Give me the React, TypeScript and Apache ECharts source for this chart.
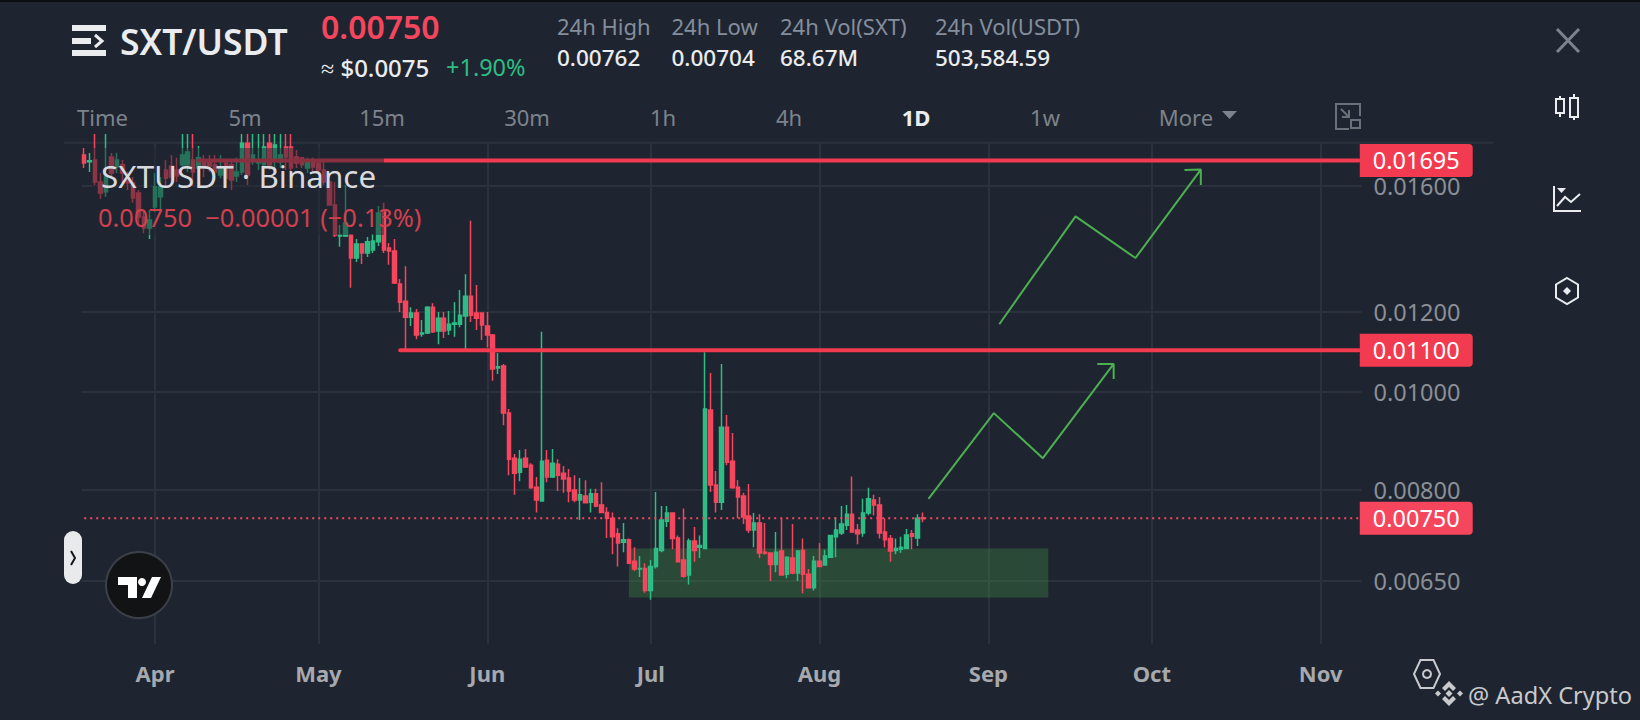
import React, { useEffect, useRef } from "react";
import * as echarts from "echarts";

// [open, close, low, high], one candle per day from 19 March
const dailyCandles: number[][] = [
  [0.01716,0.01685,0.01666,0.01744],[0.0169,0.01694,0.01651,0.01724],[0.01697,0.01614,0.01603,0.018],[0.01614,0.01574,0.01553,0.01647],
  [0.01578,0.0164,0.0156,0.018],[0.01708,0.01647,0.01632,0.01724],[0.0167,0.01697,0.01647,0.01724],[0.01678,0.01647,0.0161,0.01697],
  [0.01628,0.0161,0.01585,0.01651],[0.0161,0.01556,0.01539,0.01632],[0.01574,0.0149,0.01463,0.01585],[0.0149,0.01453,0.01436,0.01507],
  [0.01453,0.0148,0.01417,0.01514],[0.01524,0.01596,0.01507,0.01647],[0.0156,0.01596,0.01514,0.01632],[0.01658,0.01628,0.01599,0.01697],
  [0.01674,0.01632,0.01603,0.01716],[0.01658,0.01636,0.01614,0.01705],[0.01678,0.01716,0.0167,0.018],[0.01678,0.01728,0.01651,0.018],
  [0.01697,0.01651,0.01599,0.018],[0.01666,0.01705,0.01651,0.01752],[0.01689,0.01666,0.01632,0.01716],[0.01697,0.01674,0.01651,0.01716],
  [0.01678,0.01651,0.01621,0.01716],[0.0164,0.01666,0.01628,0.01716],[0.01685,0.01628,0.0161,0.01689],[0.01678,0.01621,0.01585,0.01697],
  [0.01636,0.01651,0.01614,0.01705],[0.01651,0.01763,0.0164,0.018],[0.01763,0.0164,0.01603,0.018],[0.01697,0.01716,0.01678,0.018],
  [0.01685,0.01697,0.01658,0.018],[0.01678,0.01748,0.01666,0.018],[0.01763,0.01678,0.01658,0.018],[0.01697,0.01756,0.01658,0.018],
  [0.01689,0.01716,0.01666,0.018],[0.01748,0.01708,0.01658,0.018],[0.01748,0.01666,0.01628,0.018],[0.01708,0.01685,0.01666,0.01736],
  [0.01705,0.01678,0.01666,0.01708],[0.01666,0.01697,0.01647,0.01705],[0.01689,0.0167,0.01651,0.01705],[0.01685,0.01658,0.0164,0.01697],
  [0.01658,0.01614,0.01603,0.01697],[0.01614,0.01531,0.01531,0.01621],[0.01531,0.0143,0.01424,0.01614],[0.01427,0.0143,0.01392,0.01463],
  [0.01427,0.0147,0.01424,0.01603],[0.0143,0.01357,0.01268,0.01433],[0.01357,0.01401,0.01345,0.01417],[0.01401,0.01373,0.01339,0.01404],
  [0.01373,0.01408,0.0136,0.01424],[0.01382,0.01411,0.01373,0.01433],[0.01408,0.01504,0.01395,0.01528],[0.01507,0.01382,0.01373,0.01539],
  [0.01388,0.01379,0.01336,0.01404],[0.01379,0.01282,0.01279,0.01417],[0.01279,0.01227,0.012,0.01294],[0.0123,0.01186,0.011,0.01332],
  [0.01186,0.01197,0.01162,0.01213],[0.01197,0.01139,0.01128,0.01208],[0.01141,0.01144,0.01134,0.01178],[0.01144,0.01213,0.01141,0.01216],
  [0.01213,0.01147,0.01144,0.01224],[0.01149,0.01183,0.01115,0.012],[0.01183,0.01149,0.01131,0.012],[0.01152,0.01167,0.01139,0.01203],
  [0.01167,0.0117,0.01134,0.01227],[0.01167,0.01191,0.01159,0.01262],[0.01189,0.01244,0.011,0.01308],[0.01244,0.01191,0.01173,0.01477],
  [0.01197,0.01183,0.01152,0.01276],[0.01197,0.01165,0.01126,0.01197],[0.01162,0.01139,0.01107,0.012],[0.01139,0.01054,0.01026,0.01141],
  [0.01056,0.01059,0.01042,0.01093],[0.01061,0.00953,0.00927,0.01066],[0.00953,0.00858,0.00827,0.00962],[0.0086,0.00831,0.00791,0.00868],
  [0.00833,0.00858,0.00816,0.00876],[0.0086,0.00843,0.00841,0.00878],[0.00846,0.00804,0.00802,0.0085],[0.00805,0.00782,0.0076,0.00824],
  [0.0078,0.00854,0.0078,0.01147],[0.00856,0.00824,0.00814,0.00876],[0.00824,0.0085,0.00822,0.00878],[0.00848,0.00827,0.00798,0.00858],
  [0.00831,0.0082,0.00795,0.00845],[0.00822,0.00798,0.00778,0.00839],[0.008,0.00782,0.00778,0.00827],[0.00782,0.00791,0.00747,0.00822],
  [0.00789,0.00777,0.00777,0.00818],[0.00778,0.00793,0.0076,0.00802],[0.00793,0.00771,0.00769,0.00802],[0.00773,0.0076,0.00759,0.00814],
  [0.0076,0.0075,0.00717,0.00769],[0.0075,0.00719,0.00691,0.0076],[0.00724,0.00709,0.00672,0.00733],[0.0071,0.00714,0.00694,0.00742],
  [0.00714,0.00677,0.00677,0.00716],[0.0068,0.00668,0.00665,0.00702],[0.00668,0.00669,0.00656,0.00688],[0.00669,0.00636,0.00633,0.00677],
  [0.00636,0.00672,0.00623,0.00682],[0.00672,0.007,0.00669,0.00796],[0.00697,0.00747,0.00694,0.00771],[0.00745,0.00759,0.00735,0.00771],
  [0.00759,0.00716,0.00699,0.0076],[0.00717,0.00679,0.00679,0.00721],[0.00682,0.00657,0.00655,0.00767],[0.00659,0.00712,0.00645,0.00716],
  [0.00712,0.00697,0.00679,0.00735],[0.00702,0.00705,0.00685,0.00721],[0.007,0.00962,0.00699,0.01095],[0.0096,0.00809,0.00796,0.01044],
  [0.00809,0.00778,0.0076,0.00835],[0.00778,0.00923,0.00764,0.01066],[0.00923,0.00852,0.00846,0.00949],[0.00854,0.00804,0.00802,0.00911],
  [0.00805,0.00787,0.0075,0.00818],[0.00789,0.00752,0.0074,0.00795],[0.00754,0.0073,0.00725,0.00811],[0.0073,0.00742,0.00702,0.00759],
  [0.00742,0.00693,0.00685,0.00757],[0.00694,0.00693,0.0069,0.00742],[0.00693,0.00675,0.0065,0.00693],[0.00675,0.00694,0.00663,0.00727],
  [0.00696,0.00659,0.00659,0.0075],[0.0066,0.00686,0.00654,0.00686],[0.00685,0.00662,0.0066,0.0074],[0.00662,0.00696,0.0065,0.00697],
  [0.00697,0.0066,0.00632,0.00716],[0.0066,0.0064,0.0064,0.00668],[0.0064,0.0068,0.00636,0.00688],[0.0068,0.00672,0.00672,0.00709],
  [0.00674,0.00688,0.00674,0.00698],[0.00686,0.00721,0.00686,0.00721],[0.00719,0.0073,0.00686,0.00752],[0.00725,0.0074,0.00722,0.00771],
  [0.00738,0.00757,0.0073,0.00773],[0.00757,0.00727,0.00725,0.00825],[0.0073,0.00724,0.00707,0.0074],[0.00725,0.00759,0.00719,0.00784],
  [0.00759,0.00784,0.00755,0.00804],[0.00782,0.00773,0.00755,0.00791],[0.00773,0.00725,0.00716,0.00787],[0.00727,0.00714,0.00702,0.0075],
  [0.00716,0.00696,0.00679,0.00722],[0.00697,0.007,0.00691,0.00716],[0.00699,0.00702,0.00693,0.00719],[0.007,0.00722,0.00699,0.00732],
  [0.00724,0.0072,0.00699,0.0073],[0.00717,0.0075,0.00704,0.00757],[0.00751,0.00749,0.00743,0.0076],
];

const firstDay = Date.UTC(2025, 2, 19);
const dayCount = 235;
const categories: string[] = Array.from({ length: dayCount }, (_, i) =>
  new Date(firstDay + i * 86400000).toISOString().slice(0, 10)
);
const lastDay = categories[dayCount - 1];

const monthTicks: Record<string, string> = {
  "2025-04-01": "Apr", "2025-05-01": "May", "2025-06-01": "Jun", "2025-07-01": "Jul",
  "2025-08-01": "Aug", "2025-09-01": "Sep", "2025-10-01": "Oct", "2025-11-01": "Nov",
};
const priceTicks = [0.0065, 0.008, 0.01, 0.012, 0.016];

const upperResistance = 0.01695;
const lowerResistance = 0.011;
const lastPrice = 0.0075;
const upperResistanceFrom = "2025-04-09";
const lowerResistanceFrom = "2025-05-16";

const supportZone = { from: "2025-06-27", to: "2025-09-12", top: 0.007, bottom: 0.00626 };

const lowerArrow: [string, number][] = [
  ["2025-08-21", 0.00784], ["2025-09-02", 0.00953], ["2025-09-11", 0.0086], ["2025-09-24", 0.01066],
  ["2025-09-21", 0.01066], ["2025-09-24", 0.01066], ["2025-09-24", 0.0103],
];
const upperArrow: [string, number][] = [
  ["2025-09-03", 0.01167], ["2025-09-17", 0.01492], ["2025-09-28", 0.01357], ["2025-10-10", 0.0166],
  ["2025-10-07", 0.01658], ["2025-10-10", 0.0166], ["2025-10-10", 0.01603],
];

const headerStats = [
  { label: "24h High", value: "0.00762", x: 557 },
  { label: "24h Low", value: "0.00704", x: 671.5 },
  { label: "24h Vol(SXT)", value: "68.67M", x: 780 },
  { label: "24h Vol(USDT)", value: "503,584.59", x: 935 },
];
const intervals = [
  { t: "Time", x: 102.5 }, { t: "5m", x: 245 }, { t: "15m", x: 382 }, { t: "30m", x: 527 },
  { t: "1h", x: 663 }, { t: "4h", x: 789 }, { t: "1D", x: 916, on: true }, { t: "1w", x: 1045 }, { t: "More", x: 1186 },
];

const BG = "#1f2530";
const UP = "#2ebd85";
const DOWN = "#f6465d";
const LINE_RED = "#f23a50";
const GRID = "#2b323d";
const FONT = '"Noto Sans"';

const txt = (text: string, x: number, y: number, font: string, fill: string, align = "left", z = 30) => ({
  type: "text", z, silent: true,
  style: { text, x, y, font, fill, textAlign: align, textVerticalAlign: "middle" },
});
const rect = (x: number, y: number, width: number, height: number, fill: string, r: any = 0, z = 30) => ({
  type: "rect", z, silent: true, shape: { x, y, width, height, r }, style: { fill },
});
const stroke = (color: string, lineWidth: number) => ({ fill: "none", stroke: color, lineWidth });
const pl = (points: number[][], color: string, w: number, z = 30) => ({
  type: "polyline", z, silent: true, shape: { points }, style: stroke(color, w),
});
const pg = (points: number[][], style: any, z = 30) => ({
  type: "polygon", z, silent: true, shape: { points }, style,
});
const hexagon = (cx: number, cy: number, rx: number, ry: number) => [
  [cx, cy - ry], [cx + rx, cy - ry / 2], [cx + rx, cy + ry / 2], [cx, cy + ry], [cx - rx, cy + ry / 2], [cx - rx, cy - ry / 2],
];

const priceLabel = (labelText: string, bg: string) => ({
  show: true, formatter: labelText, distance: 1, color: "#ffffff", backgroundColor: bg,
  fontFamily: FONT, fontSize: 23.5, padding: [5, 13, 4, 13], borderRadius: [0, 4, 4, 0],
});
const resistanceLine = (value: number, from: string, labelText: string) => ({
  type: "line", z: 6, showSymbol: false, silent: true,
  data: [[from, value], [lastDay, value]],
  lineStyle: { color: LINE_RED, width: 4, cap: "round" },
  endLabel: priceLabel(labelText, LINE_RED),
});
const arrowSeries = (data: [string, number][]) => ({
  type: "line", z: 7, showSymbol: false, silent: true, data,
  lineStyle: { color: "#4caf50", width: 2 },
});

const graphics: any[] = [
  rect(0, 0, 1640, 2, "#0b0e11"),
  // legend veil over the candles
  rect(92, 148, 292, 87, "rgba(31,37,48,0.5)", 0, 20),
  pl([[64, 142.7], [1493, 142.7]], GRID, 2, 1),
  txt("SXTUSDT · Binance", 101, 175, `400 31.4px ${FONT}`, "#d8dade"),
  txt("0.00750  −0.00001 (−0.13%)", 98, 217, `400 25.4px ${FONT}`, "#d0404f"),
  // header
  rect(72, 25, 34, 6, "#eaecef"), rect(72, 38, 19, 6, "#eaecef"), rect(72, 50, 34, 6, "#eaecef"),
  pl([[95, 35], [102, 41], [95, 47]], "#eaecef", 3),
  txt("SXT/USDT", 120, 41, `600 35.5px ${FONT}`, "#eaecef"),
  txt("0.00750", 321, 26, `600 32px ${FONT}`, DOWN),
  txt("≈ $0.0075", 321, 67, `500 24px ${FONT}`, "#eaecef"),
  txt("+1.90%", 446, 67, `400 23.5px ${FONT}`, UP),
  ...headerStats.flatMap((s) => [
    txt(s.label, s.x, 26, `400 22px ${FONT}`, "#848e9c"),
    txt(s.value, s.x, 57.5, `500 22.5px ${FONT}`, "#eaecef"),
  ]),
  ...intervals.map((it) =>
    txt(it.t, it.x, 117, `${it.on ? 700 : 400} 22px ${FONT}`, it.on ? "#eaecef" : "#7d838c", "center")
  ),
  pg([[1222, 111], [1237, 111], [1229.5, 119]], { fill: "#7d838c" }),
  // expand icon
  pl([[1349, 129], [1336, 129], [1336, 104], [1360, 104], [1360, 116]], "#6b7079", 2),
  { type: "rect", z: 30, silent: true, shape: { x: 1351, y: 120, width: 9, height: 8 }, style: stroke("#6b7079", 2) },
  pl([[1341, 109], [1349, 117]], "#6b7079", 2),
  pl([[1342, 117], [1349, 117], [1349, 110]], "#6b7079", 2),
  // right toolbar
  pl([[1557, 29], [1579, 52]], "#7d838c", 3), pl([[1579, 29], [1557, 52]], "#7d838c", 3),
  { type: "rect", z: 30, silent: true, shape: { x: 1556, y: 99, width: 8, height: 14 }, style: stroke("#eaecef", 2) },
  { type: "rect", z: 30, silent: true, shape: { x: 1570, y: 98, width: 8, height: 19 }, style: stroke("#eaecef", 2) },
  pl([[1560, 96], [1560, 99]], "#eaecef", 2), pl([[1560, 113], [1560, 117]], "#eaecef", 2),
  pl([[1574, 94], [1574, 98]], "#eaecef", 2), pl([[1574, 117], [1574, 120]], "#eaecef", 2),
  pl([[1554, 186], [1554, 211], [1581, 211]], "#eaecef", 2),
  pl([[1557, 206], [1565, 197], [1571, 202], [1580, 194]], "#eaecef", 2),
  pg([[1557, 188], [1566, 188], [1561.5, 193]], { fill: "#eaecef" }),
  pg(hexagon(1567, 291, 11, 13), stroke("#eaecef", 2)),
  pg([[1567, 287], [1571, 291], [1567, 295], [1563, 291]], { fill: "#eaecef" }),
  // pill and logo
  rect(64, 531, 18, 53, "#e9eaec", 9),
  pl([[71, 551], [75, 558], [71, 565]], "#14171c", 2),
  { type: "circle", z: 30, silent: true, shape: { cx: 139, cy: 585, r: 33 }, style: { fill: "#121315", stroke: "#3c4149", lineWidth: 2 } },
  pg([[118, 577], [137, 577], [137, 598], [128, 598], [128, 585], [118, 585]], { fill: "#ffffff" }),
  { type: "circle", z: 31, silent: true, shape: { cx: 142, cy: 582, r: 4 }, style: { fill: "#ffffff" } },
  pg([[152, 577], [161, 577], [151, 598], [142, 598]], { fill: "#ffffff" }),
  // watermark
  pg(hexagon(1427, 674, 14, 13).map((p) => [p[1] - 674 + 1427, p[0] - 1427 + 674]), stroke("#c8cacd", 2)),
  { type: "circle", z: 30, silent: true, shape: { cx: 1427, cy: 674, r: 4 }, style: stroke("#c8cacd", 2) },
  pg([[1449, 681], [1456, 688], [1453, 691], [1449, 687], [1445, 691], [1442, 688]], { fill: "#c8cacd" }),
  pg([[1449, 706], [1456, 699], [1453, 696], [1449, 700], [1445, 696], [1442, 699]], { fill: "#c8cacd" }),
  pg([[1449, 690], [1452.5, 693.5], [1449, 697], [1445.5, 693.5]], { fill: "#c8cacd" }),
  pg([[1438, 690.5], [1441, 693.5], [1438, 696.5], [1435, 693.5]], { fill: "#c8cacd" }),
  pg([[1460, 690.5], [1463, 693.5], [1460, 696.5], [1457, 693.5]], { fill: "#c8cacd" }),
  txt("@ AadX Crypto", 1468, 695, `400 23.6px ${FONT}`, "#c8cacd"),
];

const option: any = {
  animation: false,
  backgroundColor: BG,
  grid: { left: 81.5, top: 142.7, width: 1280, height: 501.3, containLabel: false },
  xAxis: {
    type: "category",
    data: categories,
    boundaryGap: true,
    axisLine: { show: false },
    axisTick: { show: false },
    axisLabel: {
      interval: (_: number, v: string) => v in monthTicks,
      formatter: (v: string) => monthTicks[v] ?? "",
      color: "#a6a9ae", fontFamily: FONT, fontWeight: 700, fontSize: 22, margin: 18,
    },
    splitLine: {
      show: true, alignWithLabel: true,
      interval: (_: number, v: string) => v in monthTicks,
      lineStyle: { color: GRID, width: 2 },
    },
  },
  yAxis: {
    type: "log",
    position: "right",
    min: 0.005631,
    max: 0.017649,
    axisLine: { show: false },
    axisTick: { show: false, customValues: priceTicks },
    axisLabel: {
      customValues: priceTicks,
      formatter: (v: number) => Number(v).toFixed(5),
      color: "#8b8f96", fontFamily: FONT, fontSize: 23.5, margin: 12,
    },
    splitLine: { show: true, lineStyle: { color: GRID, width: 2 } },
  },
  graphic: graphics,
  series: [
    {
      type: "line", z: 1, silent: true, showSymbol: false,
      data: [[supportZone.from, supportZone.bottom]],
      lineStyle: { opacity: 0 },
      markArea: {
        silent: true, z: 1,
        itemStyle: { color: "rgba(68,160,72,0.3)" },
        data: [[
          { xAxis: supportZone.from, yAxis: supportZone.top },
          { xAxis: supportZone.to, yAxis: supportZone.bottom },
        ]],
      },
    },
    {
      type: "candlestick", z: 3, silent: true, barWidth: 4,
      data: dailyCandles,
      itemStyle: { color: UP, color0: DOWN, borderColor: UP, borderColor0: DOWN, borderWidth: 1.5 },
    },
    {
      type: "line", z: 5, silent: true, showSymbol: false,
      data: [[categories[0], lastPrice], [lastDay, lastPrice]],
      lineStyle: { color: DOWN, width: 2, type: [2, 4] },
      endLabel: priceLabel("0.00750", DOWN),
    },
    resistanceLine(upperResistance, upperResistanceFrom, "0.01695"),
    resistanceLine(lowerResistance, lowerResistanceFrom, "0.01100"),
    arrowSeries(lowerArrow),
    arrowSeries(upperArrow),
  ],
};

export default function App() {
  const ref = useRef<HTMLDivElement>(null);
  useEffect(() => {
    document.body.style.margin = "0";
    document.body.style.background = BG;
    const chart = echarts.init(ref.current!, undefined, { renderer: "svg" });
    chart.setOption(option);
    return () => chart.dispose();
  }, []);
  return <div ref={ref} style={{ width: 1640, height: 720 }} />;
}
